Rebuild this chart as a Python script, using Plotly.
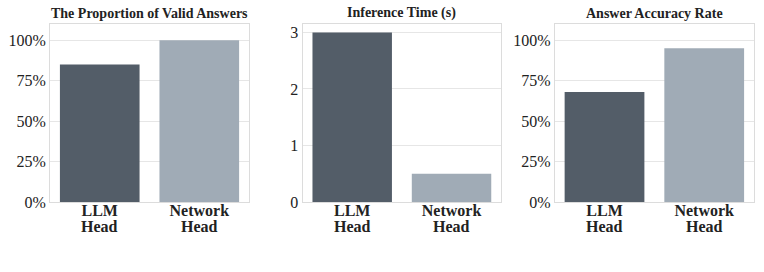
import plotly.graph_objects as go

categories = ["LLM Head", "Network Head"]
label_line1 = ["LLM", "Network"]
label_line2 = ["Head", "Head"]
titles = ["The Proportion of Valid Answers", "Inference Time (s)", "Answer Accuracy Rate"]
valid_prop = [0.85, 1.00]
infer_time = [3.0, 0.5]
accuracy = [0.68, 0.95]
colors = ["#535D68", "#A0ABB6"]

series = [valid_prop, infer_time, accuracy]
xdomains = [[0.0654, 0.326], [0.396, 0.656], [0.726, 0.987]]
ydomain = [0.257, 0.912]

fig = go.Figure()
font_family = "Liberation Serif, Times New Roman, serif"

for i, vals in enumerate(series):
    n = "" if i == 0 else str(i + 1)
    fig.add_trace(go.Bar(x=categories, y=vals, marker=dict(color=colors, line=dict(width=0)),
                         xaxis="x" + n, yaxis="y" + n, showlegend=False, width=0.8))
    is_pct = i != 1
    fig.update_layout(**{
        "xaxis" + n: dict(domain=xdomains[i], anchor="y" + n, showline=True, mirror=True,
                          linecolor="#DCDCDC", linewidth=1, showgrid=False, automargin=False,
                          tickvals=categories, ticktext=["<b>" + t + "</b>" for t in label_line1],
                          tickfont=dict(family=font_family, size=16, color="#222222"),
                          ticks="", ticklabelstandoff=-6),
        "yaxis" + n: dict(domain=ydomain, anchor="x" + n, showline=True, mirror=True,
                          linecolor="#DCDCDC", linewidth=1, gridcolor="#E6E6E6", automargin=False,
                          range=[0, 1.1] if is_pct else [0, 3.15],
                          tickvals=[0, 0.25, 0.5, 0.75, 1.0] if is_pct else [0, 1, 2, 3],
                          ticktext=["0%", "25%", "50%", "75%", "100%"] if is_pct else ["0", "1", "2", "3"],
                          tickfont=dict(family=font_family, size=16, color="#222222"),
                          ticks="", zeroline=False),
    })
    for c, t in zip(categories, label_line2):
        fig.add_annotation(text="<b>" + t + "</b>", x=c, xref="x" + n, y=1 - 226 / 272, yref="paper",
                           showarrow=False, xanchor="center", yanchor="middle",
                           font=dict(family=font_family, size=16, color="#222222"))
    fig.add_annotation(text="<b>" + titles[i] + "</b>", x=(xdomains[i][0] + xdomains[i][1]) / 2,
                       y=1 - 13 / 272, xref="paper", yref="paper", showarrow=False,
                       xanchor="center", yanchor="middle",
                       font=dict(family=font_family, size=14, color="#222222"))

fig.update_layout(width=764, height=272, margin=dict(l=0, r=0, t=0, b=0),
                  plot_bgcolor="white", paper_bgcolor="white", bargap=0.2)
fig.write_html("out.html")
